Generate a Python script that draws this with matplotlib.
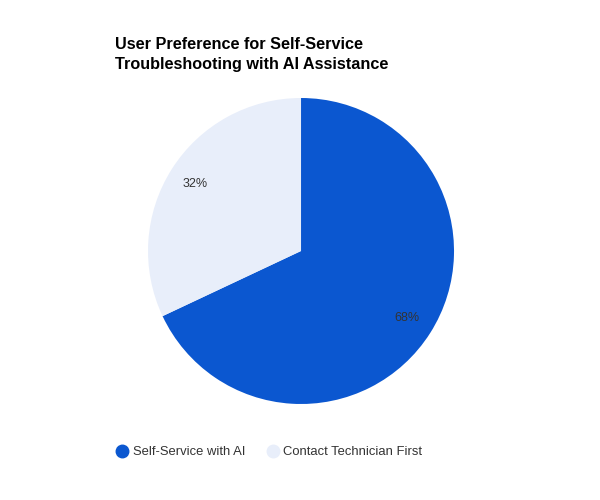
import matplotlib.pyplot as plt
from matplotlib.lines import Line2D

plt.rcParams['font.family'] = ['Liberation Sans', 'DejaVu Sans']

labels = ['Self-Service with AI', 'Contact Technician First']
values = [68, 32]
colors = ['#0B57D0', '#E8EEFA']
title = 'User Preference for Self-Service\nTroubleshooting with AI Assistance'

fig = plt.figure(figsize=(6, 5), dpi=100)
ax = fig.add_axes([0.2467, 0.192, 0.51, 0.612])
wedges, texts, autotexts = ax.pie(values, colors=colors, startangle=90, counterclock=False,
                                  autopct='%1.0f%%', pctdistance=0.82, radius=1,
                                  wedgeprops=dict(linewidth=0),
                                  textprops=dict(fontsize=9, color='#333333'))
ax.set_xlim(-1, 1)
ax.set_ylim(-1, 1)
ax.set_aspect('equal')
ax.axis('off')

fig.text(115 / 600, 1 - 37 / 500, title, fontsize=11.7, fontweight='bold',
         ha='left', va='top', linespacing=1.45, color='#000000')

handles = [Line2D([0], [0], marker='o', color='none', markerfacecolor=c, markeredgecolor=c,
                  markersize=9) for c in colors]
fig.legend(handles, labels, loc='center left', bbox_to_anchor=(105.5 / 600, 1 - 452 / 500),
           ncol=2, frameon=False, fontsize=9.4, handlelength=0.8, handletextpad=0.4,
           columnspacing=1.7, labelcolor='#333333')

fig.savefig('out.png', dpi=100)
